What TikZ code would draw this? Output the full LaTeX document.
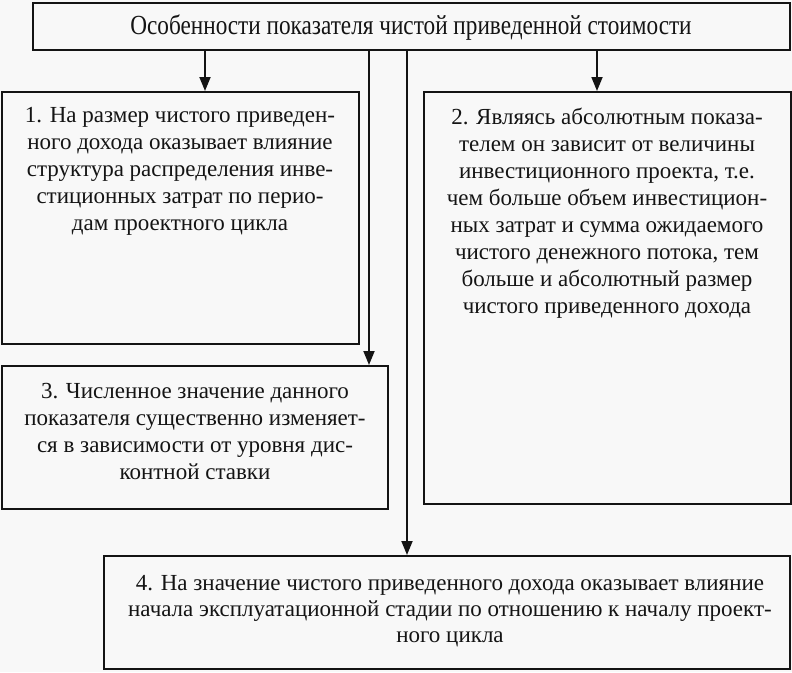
\documentclass[tikz,border=0pt]{standalone}
\usepackage{fontspec}
\newfontfamily\ser{Liberation Serif}
\usetikzlibrary{arrows.meta}
\definecolor{bg}{HTML}{F8F8F8}
\definecolor{fr}{HTML}{141414}
\begin{document}
\begin{tikzpicture}[x=1pt,y=-1pt,
  box/.style={draw=fr,line width=1.8pt,fill=bg,inner sep=0pt,anchor=north west},
  txt/.style={font=\ser\fontsize{23}{27}\selectfont,align=center,inner sep=0pt,anchor=north,text=fr},
  arr/.style={draw=fr,line width=1.8pt,-{Triangle[length=14pt,width=11pt]}}]
\fill[bg] (0,0) rectangle (792,672);
\useasboundingbox (0,0) rectangle (792,672);
\node[box,minimum width=757pt,minimum height=47pt] (top) at (32,2) {};
\node[box,minimum width=357pt,minimum height=252pt] (b1) at (1,91) {};
\node[box,minimum width=367pt,minimum height=412pt] (b2) at (423,91) {};
\node[box,minimum width=386pt,minimum height=143pt] (b3) at (1,365) {};
\node[box,minimum width=686pt,minimum height=113pt] (b4) at (103,555) {};
\node[txt,anchor=base] (t0) at (411,34) {\scalebox{1.01}[1.2]{Особенности показателя чистой приведенной стоимости}};
\node[txt] (t1) at (180,107.5) {1. На размер чистого приведен-\\ного дохода оказывает влияние\\структура распределения инве-\\стиционных затрат по перио-\\дам проектного цикла};
\node[txt] (t2) at (607,108) {2. Являясь абсолютным показа-\\телем он зависит от величины\\инвестиционного проекта, т.е.\\чем больше объем инвестицион-\\ных затрат и сумма ожидаемого\\чистого денежного потока, тем\\больше и абсолютный размер\\чистого приведенного дохода};
\node[txt] (t3) at (195,383) {3. Численное значение данного\\показателя существенно изменяет-\\ся в зависимости от уровня дис-\\контной ставки};
\node[txt,font=\ser\fontsize{23}{26}\selectfont] (t4) at (450,575) {4. На значение чистого приведенного дохода оказывает влияние\\начала эксплуатационной стадии по отношению к началу проект-\\ного цикла};
\coordinate (x1) at (205,0);
\coordinate (x2) at (597,0);
\coordinate (x3) at (369,0);
\coordinate (x4) at (407,0);
\draw[arr] (top.south -| x1) -- (b1.north -| x1);
\draw[arr] (top.south -| x2) -- (b2.north -| x2);
\draw[arr] (top.south -| x3) -- (b3.north -| x3);
\draw[arr] (top.south -| x4) -- (b4.north -| x4);
\end{tikzpicture}
\end{document}
